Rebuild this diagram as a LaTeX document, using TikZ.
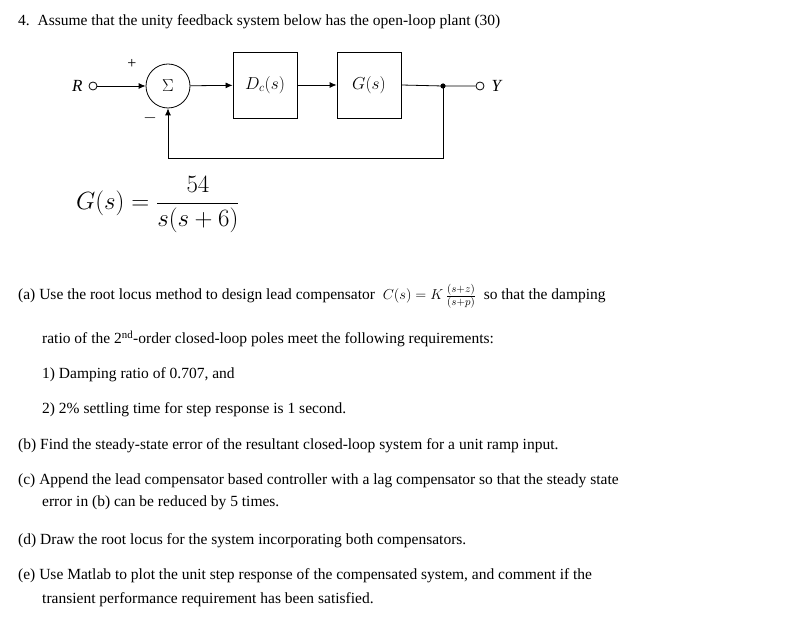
\documentclass[tikz,border=0pt]{standalone}
\usepackage{amsmath}
\usepackage[no-math]{fontspec}
\setmainfont{Liberation Serif}
\usetikzlibrary{arrows.meta}
\begin{document}
\begin{tikzpicture}[x=1pt,y=-1pt,
  blk/.style={draw,line width=0.8pt,minimum width=64pt,minimum height=66pt,font=\fontsize{17}{20}\selectfont},
  sumc/.style={draw,circle,line width=0.8pt,minimum size=44pt,inner sep=0pt,font=\fontsize{17}{20}\selectfont},
  term/.style={draw,circle,line width=0.8pt,minimum size=8pt,inner sep=0pt,fill=white},
  sig/.style={line width=0.8pt,-{Latex[length=7pt,width=6pt]}},
  ln/.style={line width=0.8pt},
  txt/.style={anchor=west,inner sep=0pt,font=\fontsize{15.5}{18}\selectfont}]
\useasboundingbox[fill=white] (0,0) rectangle (793,628);
\node[txt] (h) at (18,22) {4.\ \ Assume that the unity feedback system below has the open-loop plant (30)};
\node[sumc] (s) at (168,86) {$\Sigma$};
\node[blk] (dc) at (265,85) {$D_c(s)$};
\node[blk] (g) at (369,85) {$G(s)$};
\node[term] (r) at (93,86) {};
\node[anchor=east,font=\fontsize{17}{20}\selectfont\itshape] (rl) at (86,86) {R};
\node[term] (y) at (480,86) {};
\node[anchor=west,font=\fontsize{17}{20}\selectfont\itshape] (yl) at (488,86) {Y};
\coordinate (j) at (443,86);
\coordinate (fb) at (443,158);
\coordinate (fs) at (168,158);
\fill (j) circle (2.6pt);
\draw[sig] (r) -- (s);
\draw[sig] (s) -- (dc);
\draw[sig] (dc) -- (g);
\draw[ln] (g.east) -- (j) -- (y);
\draw[sig] (j) -- (fb) -- (fs) -- (s);
\node[font=\fontsize{16}{18}\selectfont] (p) at (132,64) {+};
\node[font=\fontsize{16}{18}\selectfont] (m) at (150,118) {$-$};
\node[anchor=west,inner sep=0pt,font=\fontsize{25}{30}\selectfont] (eq) at (76,205) {$G(s)=\dfrac{54}{s(s+6)}$};
\node[txt] (a) at (18,296) {(a) Use the root locus method to design lead compensator \ $C(s)=K\,\frac{(s+z)}{(s+p)}$ \ so that the damping};
\node[txt] (a2) at (42,339) {ratio of the 2\textsuperscript{nd}-order closed-loop poles meet the following requirements:};
\node[txt] (a3) at (42,375) {1) Damping ratio of 0.707, and};
\node[txt] (a4) at (42,410) {2) 2\% settling time for step response is 1 second.};
\node[txt] (b) at (18,446) {(b) Find the steady-state error of the resultant closed-loop system for a unit ramp input.};
\node[txt] (c) at (18,481) {(c) Append the lead compensator based controller with a lag compensator so that the steady state};
\node[txt] (c2) at (42,503) {error in (b) can be reduced by 5 times.};
\node[txt] (d) at (18,541) {(d) Draw the root locus for the system incorporating both compensators.};
\node[txt] (e) at (18,576) {(e) Use Matlab to plot the unit step response of the compensated system, and comment if the};
\node[txt] (e2) at (42,600) {transient performance requirement has been satisfied.};
\end{tikzpicture}
\end{document}
